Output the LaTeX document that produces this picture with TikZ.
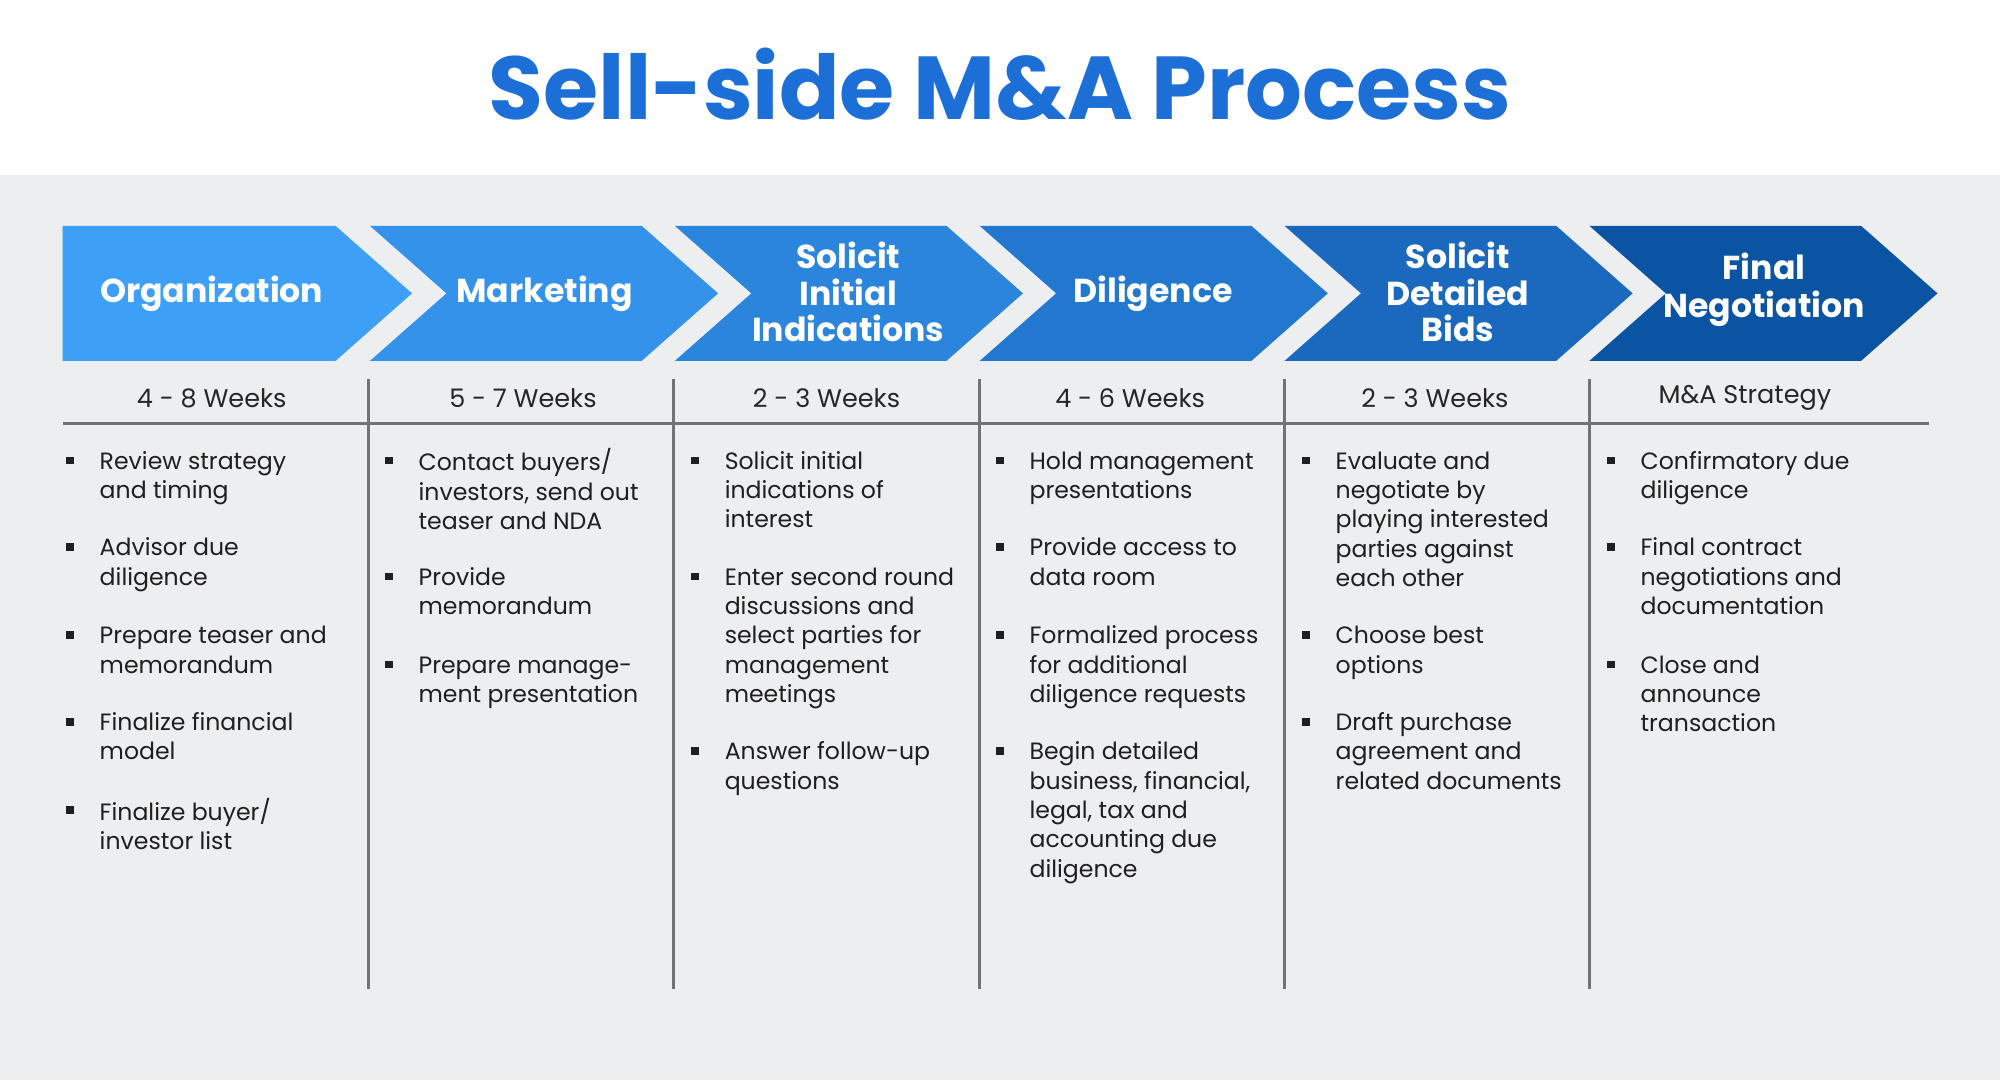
\documentclass[tikz,border=0pt]{standalone}
\usepackage{fontspec}
\setmainfont{Poppins}
\begin{document}
\begin{tikzpicture}[x=1pt,y=-1pt,
  chev/.style={line width=0pt},
  lab/.style={text=white,font=\fontsize{26}{28.5}\selectfont\bfseries,align=center,inner sep=0},
  hdr/.style={font=\fontsize{20}{24}\selectfont,text=black!85,inner sep=0},
  bl/.style={anchor=north west,inner sep=0,align=left,font=\fontsize{18.5}{23}\selectfont,text=black!88},
  div/.style={draw=black!55,line width=2.2pt}]
\definecolor{bg}{HTML}{EDEEF0}
\definecolor{ttl}{HTML}{1C6FD6}
\definecolor{c1}{HTML}{3E9FF7}
\definecolor{c2}{HTML}{3592EA}
\definecolor{c3}{HTML}{2B85DC}
\definecolor{c4}{HTML}{2278CE}
\definecolor{c5}{HTML}{1A69BF}
\definecolor{c6}{HTML}{0B54A3}
\useasboundingbox (0,0) rectangle (1568,847);
\fill[white] (0,0) rectangle (1568,137);
\fill[bg] (0,137) rectangle (1568,847);
\node[text=ttl,font=\fontsize{70}{80}\selectfont\bfseries,inner sep=0] (title) at (784,66) {Sell-side M\&A Process};
% chevrons
\fill[c1] (49,177) -- (263,177) -- (323,230) -- (263,283) -- (49,283) -- cycle;
\foreach \x/\c in {290/c2,529/c3,768/c4,1007/c5,1246/c6}{
  \fill[\c] (\x,177) -- (\x+213,177) -- (\x+273,230) -- (\x+213,283) -- (\x,283) -- (\x+60,230) -- cycle;
}
\node[lab] (l1) at (166,230) {Organization};
\node[lab] (l2) at (427,230) {Marketing};
\node[lab] (l3) at (665,229) {Solicit\\Initial\\Indications};
\node[lab] (l4) at (904,230) {Diligence};
\node[lab] (l5) at (1143,229) {Solicit\\Detailed\\Bids};
\node[lab,font=\fontsize{26}{30}\selectfont\bfseries] (l6) at (1383,227) {Final\\Negotiation};
% header row
\node[hdr] (h1) at (166,312) {4 - 8 Weeks};
\node[hdr] (h2) at (410,312) {5 - 7 Weeks};
\node[hdr] (h3) at (648,312) {2 - 3 Weeks};
\node[hdr] (h4) at (886,312) {4 - 6 Weeks};
\node[hdr] (h5) at (1125,312) {2 - 3 Weeks};
\node[hdr] (h6) at (1368,312) {M\&A Strategy};
\draw[draw=black!55,line width=2.2pt] (49,332) -- (1512,332);
\foreach \x in {289,528,768,1007,1246}{\draw[div] (\x,297) -- (\x,775);}
\newcommand\bitem[4]{%
  \fill[black!88] (#1+52,#2-3) rectangle ++(6,6);
  \node[bl] (#4) at (#1+78,#2-9.6) {\strut #3};}
% col1
\bitem{0}{361}{Review strategy\\and timing}{a1}
\bitem{0}{429}{Advisor due\\diligence}{a2}
\bitem{0}{498}{Prepare teaser and\\memorandum}{a3}
\bitem{0}{566}{Finalize financial\\model}{a4}
\bitem{0}{635}{Finalize buyer/\\investor list}{a5}
% col2
\bitem{250}{361}{Contact buyers/\\investors, send out\\teaser and NDA}{b1}
\bitem{250}{452}{Provide\\memorandum}{b2}
\bitem{250}{521}{Prepare manage-\\ment presentation}{b3}
% col3
\bitem{490}{361}{Solicit initial\\indications of\\interest}{c1n}
\bitem{490}{452}{Enter second round\\discussions and\\select parties for\\management\\meetings}{c2n}
\bitem{490}{589}{Answer follow-up\\questions}{c3n}
% col4
\bitem{729}{361}{Hold management\\presentations}{d1}
\bitem{729}{429}{Provide access to\\data room}{d2}
\bitem{729}{498}{Formalized process\\for additional\\diligence requests}{d3}
\bitem{729}{589}{Begin detailed\\business, financial,\\legal, tax and\\accounting due\\diligence}{d4}
% col5
\bitem{969}{361}{Evaluate and\\negotiate by\\playing interested\\parties against\\each other}{e1}
\bitem{969}{498}{Choose best\\options}{e2}
\bitem{969}{566}{Draft purchase\\agreement and\\related documents}{e3}
% col6
\bitem{1208}{361}{Confirmatory due\\diligence}{f1}
\bitem{1208}{429}{Final contract\\negotiations and\\documentation}{f2}
\bitem{1208}{521}{Close and\\announce\\transaction}{f3}
\end{tikzpicture}
\end{document}
